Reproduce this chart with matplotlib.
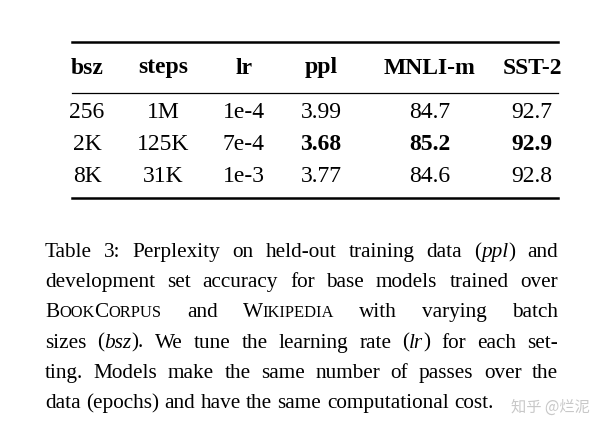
import matplotlib
matplotlib.use("Agg")
import matplotlib.pyplot as plt

headers = ["bsz", "steps", "lr", "ppl", "MNLI-m", "SST-2"]
bsz = ["256", "2K", "8K"]
steps = ["1M", "125K", "31K"]
lr = ["1e-4", "7e-4", "1e-3"]
ppl = ["3.99", "3.68", "3.77"]
mnli = ["84.7", "85.2", "84.6"]
sst2 = ["92.7", "92.9", "92.8"]
best_row = 1

caption_lines = [
    "Table 3: Perplexity on held-out training data (*ppl*) and",
    "development set accuracy for base models trained over",
    "B^OOK C^ORPUS and W^IKIPEDIA with varying batch",
    "sizes (*bsz*). We tune the learning rate (*lr*) for each set-",
    "ting. Models make the same number of passes over the",
    "data (epochs) and have the same computational cost.",
]

W, H = 600, 433
fig = plt.figure(figsize=(6, 4.33), dpi=100)
ax = fig.add_axes([0, 0, 1, 1])
ax.set_xlim(0, W)
ax.set_ylim(H, 0)
ax.axis("off")
serif = "Liberation Serif"

col_x = [87, 163, 244, 321, 430, 532]
for x, h in zip(col_x, headers):
    ax.text(x, 68, h, ha="center", va="center", family=serif, weight="bold", fontsize=17)
cols = [bsz, steps, lr, ppl, mnli, sst2]
row_y = [112, 144, 177]
for j, col in enumerate(cols):
    for i, v in enumerate(col):
        bold = (i == best_row and j >= 3)
        ax.text(col_x[j], row_y[i], v, ha="center", va="center", family=serif,
                weight="bold" if bold else "normal", fontsize=17)
ax.plot([72, 558], [42, 42], color="black", lw=1.8)
ax.plot([72, 558], [93, 93], color="black", lw=0.9)
ax.plot([72, 558], [198, 198], color="black", lw=1.8)

# caption with justification and small caps
fig.canvas.draw()
rend = fig.canvas.get_renderer()
fs = 15.3


def parse_word(w):
    if "*" in w:
        a, b, c = w.split("*")
        return [(s, fs, st) for s, st in [(a, "normal"), (b, "italic"), (c, "normal")] if s]
    if "^" in w:
        parts = w.split("^")
        return [(parts[0], fs, "normal"), (parts[1].upper(), fs * 0.78, "normal")]
    return [(w, fs, "normal")]


def run_width(s, size, style):
    t = ax.text(0, 0, s, family=serif, fontsize=size, style=style)
    w = t.get_window_extent(rend).width
    t.remove()
    return w


left, right = 45, 558
y = 257
for li, line in enumerate(caption_lines):
    words = []
    for w in line.split(" "):
        if w == "C^ORPUS":
            words[-1] = words[-1] + parse_word(w)
        else:
            words.append(parse_word(w))
    widths = [sum(run_width(*r) for r in wd) for wd in words]
    space = run_width("a b", fs, "normal") - run_width("ab", fs, "normal")
    if li < len(caption_lines) - 1:
        space = (right - left - sum(widths)) / (len(words) - 1)
    x = left
    for wd, ww in zip(words, widths):
        for s, size, style in wd:
            ax.text(x, y, s, family=serif, fontsize=size, style=style, va="baseline")
            x += run_width(s, size, style)
        x += space
    y += 30.2

ax.text(590, 407, "知乎 @烂泥", ha="right", va="center", fontsize=11,
        color="#c8c8c8", family=["Noto Sans CJK SC", "DejaVu Sans"])

fig.savefig("out.png", dpi=100)
